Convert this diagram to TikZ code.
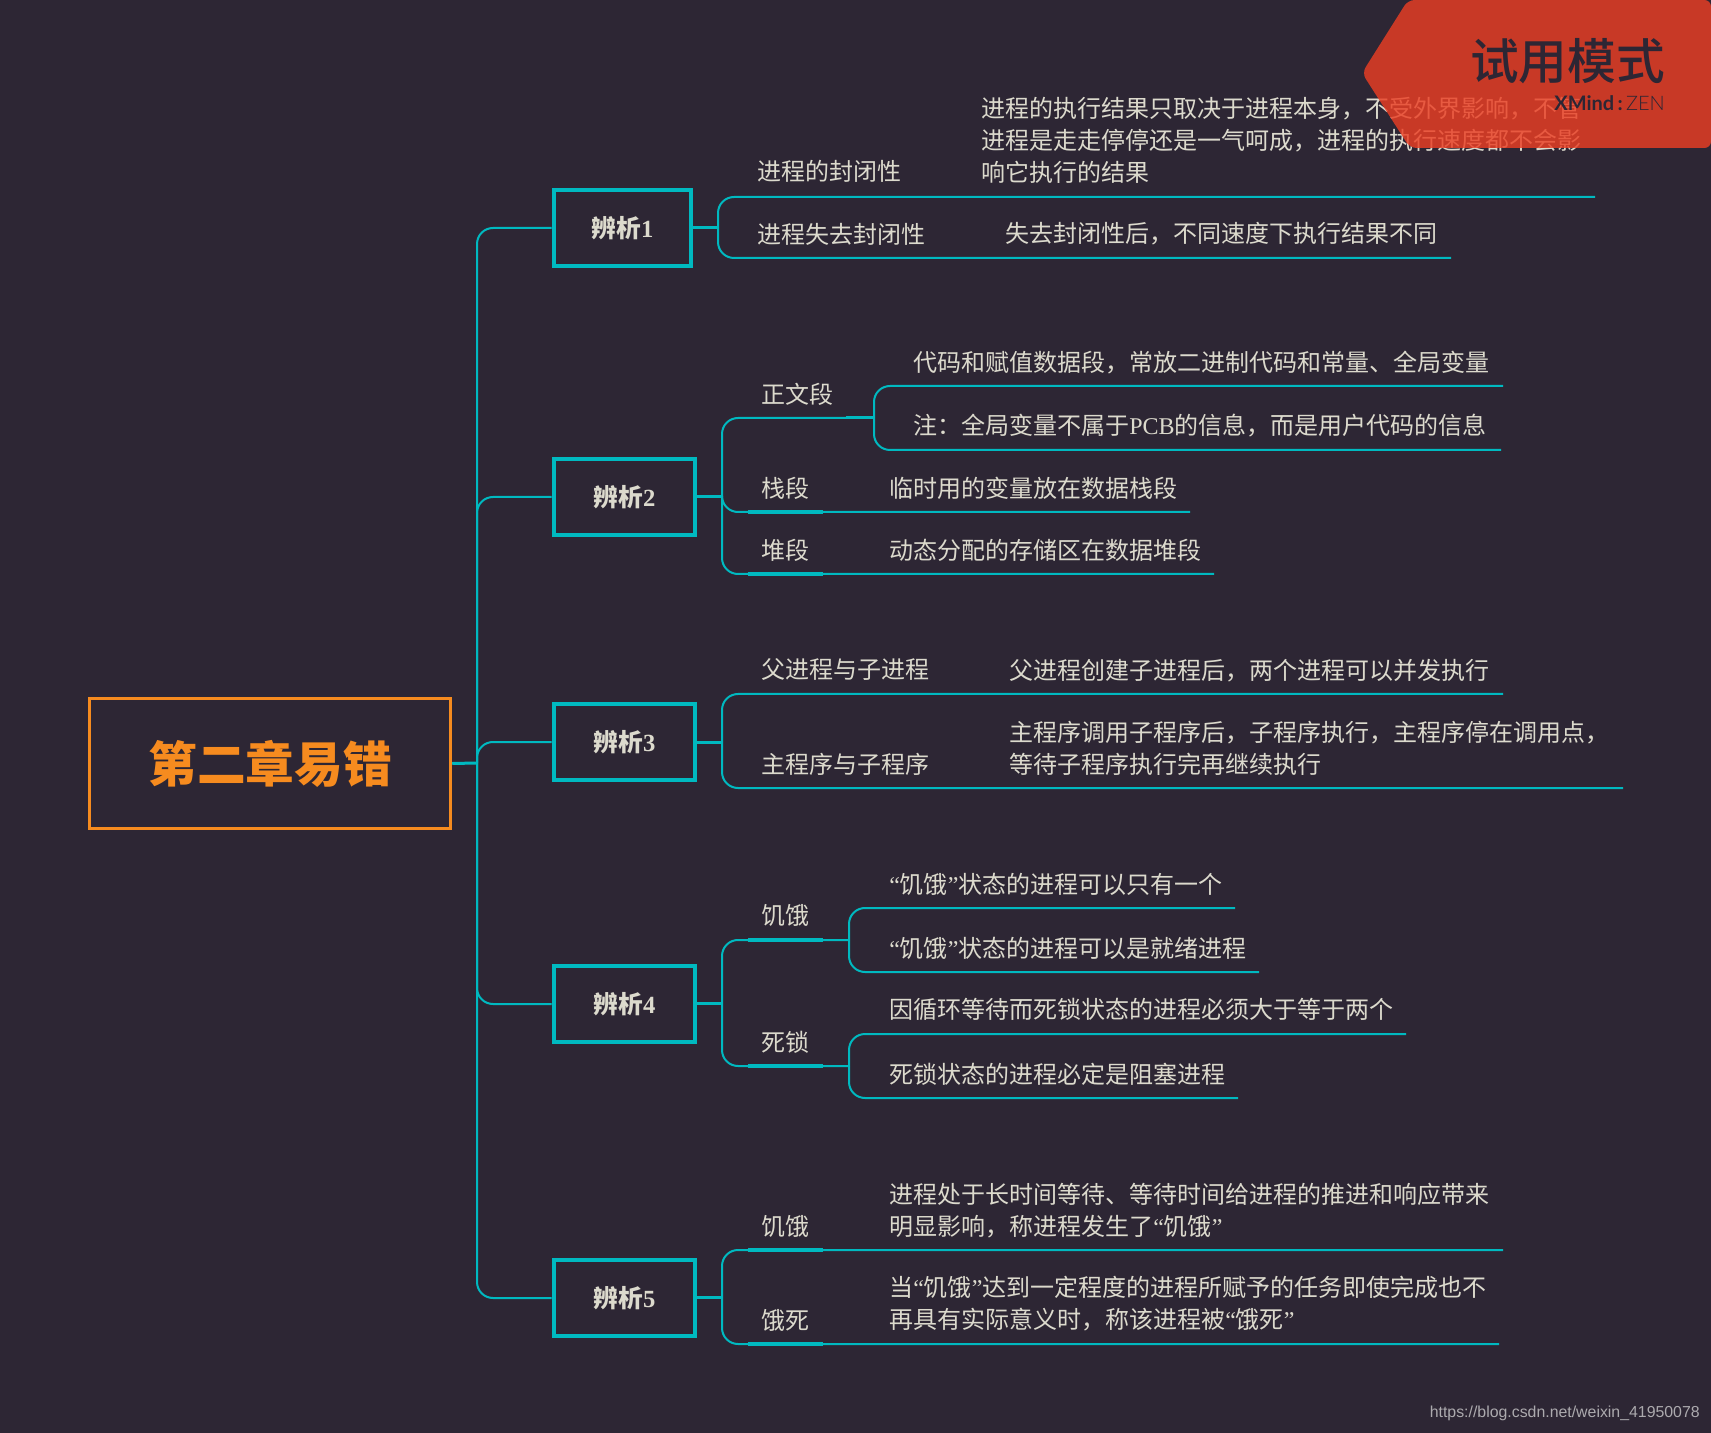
\documentclass[tikz,border=0pt]{standalone}
\usepackage{fontspec}
\setmainfont{Noto Sans CJK SC}
\newfontfamily\heavyfont{Noto Sans CJK SC Black}
\newfontfamily\badgefont{Noto Sans CJK SC Medium}
\newfontfamily\latfont{Liberation Serif}
\newfontfamily\logofont{Lato}
\newfontfamily\logolight{Lato Light}
\newfontfamily\webfont{Liberation Sans}
\usepackage{tikz}
\usetikzlibrary{positioning}
\definecolor{bgdark}{RGB}{45,38,52}
\definecolor{tealline}{RGB}{0,185,192}
\definecolor{rootorange}{RGB}{246,139,31}
\definecolor{lighttext}{RGB}{220,218,205}
\definecolor{urlgrey}{RGB}{172,170,174}
\definecolor{badgered}{RGB}{235,62,35}
\newcommand{\lat}[1]{{\latfont #1}}
\newcommand{\cma}{\char"FF0C\relax}
\newcommand{\cln}{\char"FF1A\relax}
\tikzset{
  rootbox/.style={draw=rootorange,line width=2.6pt,minimum width=270.75pt,minimum height=97.5pt,text=rootorange,font=\fontsize{36.5}{40}\selectfont\heavyfont},
  subbox/.style={draw=tealline,line width=3.4pt,minimum height=57pt,text=lighttext,font=\fontsize{18.5}{24}\selectfont\heavyfont},
  txt/.style={anchor=west,inner sep=0pt,align=left,text=lighttext,font=\fontsize{18}{24}\selectfont},
  treelink/.style={color=tealline,line width=1.5pt,rounded corners=12pt},
  stublink/.style={color=tealline,line width=2.25pt},
  underlink/.style={color=tealline,line width=2.6pt}
}
\begin{document}
\begin{tikzpicture}[x=0.75pt,y=-0.75pt]
            %
            \fill [bgdark] (0,0) rectangle (1711,1433);
            %
            \node (root) at (270,763.5) [rootbox] {第二章易错};
            \node (b1) at (622.5,228) [subbox,minimum width=102.75pt] {辨析\lat{\bfseries 1}};
            \node (b2) at (624.5,497) [subbox,minimum width=105.75pt] {辨析\lat{\bfseries 2}};
            \node (b3) at (624.5,742) [subbox,minimum width=105.75pt] {辨析\lat{\bfseries 3}};
            \node (b4) at (624.5,1004) [subbox,minimum width=105.75pt] {辨析\lat{\bfseries 4}};
            \node (b5) at (624.5,1298) [subbox,minimum width=105.75pt] {辨析\lat{\bfseries 5}};
            %
            \coordinate (tr) at (477,763);
            \draw [stublink] (root.east) -- (tr);
            \foreach \b in {b1,b2,b3,b4,b5}
                \draw [treelink] (tr) |- (\b.west);
            %
            \coordinate (j1) at (718,228);
            \coordinate (j2) at (722,497);
            \coordinate (j3) at (722,742);
            \coordinate (j4) at (722,1003);
            \coordinate (j5) at (722,1297);
            \foreach \i in {1,...,5}
                \draw [stublink] (b\i.east |- j\i) -- (j\i);
            %
            \coordinate (e11) at (1595,197);
            \coordinate (e12) at (1451,258);
            \coordinate (k21) at (874,418);
            \coordinate (e22) at (1190,512);
            \coordinate (e23) at (1214,574);
            \coordinate (e31) at (1503,694);
            \coordinate (e32) at (1623,788);
            \coordinate (k41) at (849,940);
            \coordinate (k42) at (849,1066);
            \coordinate (e51) at (1503,1250);
            \coordinate (e52) at (1499,1344);
            \draw [treelink] (j1) |- (e11);
            \draw [treelink] (j1) |- (e12);
            \draw [treelink] (j2) |- (k21);
            \draw [treelink] (j2) |- (e22);
            \draw [treelink] (j2) |- (e23);
            \draw [treelink] (j3) |- (e31);
            \draw [treelink] (j3) |- (e32);
            \draw [treelink] (j4) |- (k41);
            \draw [treelink] (j4) |- (k42);
            \draw [treelink] (j5) |- (e51);
            \draw [treelink] (j5) |- (e52);
            %
            \coordinate (f1) at (1503,386);
            \coordinate (f2) at (1501,450);
            \coordinate (f3) at (1235,908);
            \coordinate (f4) at (1259,972);
            \coordinate (f5) at (1406,1034);
            \coordinate (f6) at (1238,1098);
            \draw [treelink] (k21) |- (f1);
            \draw [treelink] (k21) |- (f2);
            \draw [treelink] (k41) |- (f3);
            \draw [treelink] (k41) |- (f4);
            \draw [treelink] (k42) |- (f5);
            \draw [treelink] (k42) |- (f6);
            %
            \foreach \y [count=\i] in {512,574,940,1066,1250,1344} {
                \coordinate (ua\i) at (748,\y);
                \coordinate (ub\i) at (823,\y);
                \draw [underlink] (ua\i) -- (ub\i);
            }
            \coordinate (ua7) at (846,418);
            \draw [stublink] (ua7) -- (k21);
            %
            \node (t11) at (757,171.5) [txt] {进程的封闭性};
            \node (t12) at (757,234) [txt] {进程失去封闭性};
            \node (d11) at (981,140) [txt] {进程的执行结果只取决于进程本身\cma 不受外界影响\cma 不管\\进程是走走停停还是一气呵成\cma 进程的执行速度都不会影\\响它执行的结果};
            \node (d12) at (1005,234) [txt] {失去封闭性后\cma 不同速度下执行结果不同};
            %
            \node (t21) at (761,394) [txt] {正文段};
            \node (t22) at (761,488) [txt] {栈段};
            \node (t23) at (761,550) [txt] {堆段};
            \node (d21) at (913,363) [txt] {代码和赋值数据段\cma 常放二进制代码和常量、全局变量};
            \node (d22) at (913,426) [txt] {注\cln 全局变量不属于\lat{PCB}的信息\cma 而是用户代码的信息};
            \node (d23) at (889,488) [txt] {临时用的变量放在数据栈段};
            \node (d24) at (889,550) [txt] {动态分配的存储区在数据堆段};
            %
            \node (t31) at (761,670) [txt] {父进程与子进程};
            \node (t32) at (761,764) [txt] {主程序与子程序};
            \node (d31) at (1009,671) [txt] {父进程创建子进程后\cma 两个进程可以并发执行};
            \node (d32) at (1009,748) [txt] {主程序调用子程序后\cma 子程序执行\cma 主程序停在调用点\cma\\等待子程序执行完再继续执行};
            %
            \node (t41) at (761,915) [txt] {饥饿};
            \node (t42) at (761,1042) [txt] {死锁};
            \node (d41) at (889,884) [txt] {\lat{“}饥饿\lat{”}状态的进程可以只有一个};
            \node (d42) at (889,948) [txt] {\lat{“}饥饿\lat{”}状态的进程可以是就绪进程};
            \node (d43) at (889,1009) [txt] {因循环等待而死锁状态的进程必须大于等于两个};
            \node (d44) at (889,1074) [txt] {死锁状态的进程必定是阻塞进程};
            %
            \node (t51) at (761,1226) [txt] {饥饿};
            \node (t52) at (761,1320) [txt] {饿死};
            \node (d51) at (889,1211) [txt] {进程处于长时间等待、等待时间给进程的推进和响应带来\\明显影响\cma 称进程发生了\lat{“}饥饿\lat{”}};
            \node (d52) at (889,1304) [txt] {当\lat{“}饥饿\lat{”}达到一定程度的进程所赋予的任务即使完成也不\\再具有实际意义时\cma 称该进程被\lat{“}饿死\lat{”}};
            %
            \fill [badgered,opacity=0.82,rounded corners=5pt] (1408,0) -- (1711,0) -- (1711,148) -- (1410,148) -- (1362,73) -- cycle;
            \node (trial) at (1665,61) [anchor=east,inner sep=0pt,text=bgdark,font=\fontsize{36.5}{40}\selectfont\badgefont] {试用模式};
            \node (logo) at (1665,103) [anchor=east,inner sep=0pt,text=bgdark,font=\fontsize{15}{17}\selectfont\logofont] {\textbf{XMind\,:\,}{\logolight ZEN}};
            %
            \node (url) at (1700,1413) [anchor=east,inner sep=0pt,text=urlgrey,font=\fontsize{11.9}{14}\selectfont\webfont] {https://blog.csdn.net/weixin\_41950078};
            %
        \end{tikzpicture}
\end{document}
